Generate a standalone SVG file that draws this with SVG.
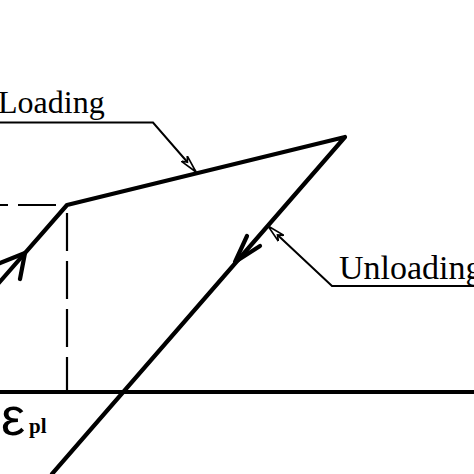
<svg xmlns="http://www.w3.org/2000/svg" width="474" height="474" viewBox="0 0 474 474">
<style>
.main{fill:none;stroke:#000;stroke-width:4.2;stroke-linecap:round;stroke-linejoin:round}
.axis{fill:none;stroke:#000;stroke-width:3.8}
.dash{fill:none;stroke:#000;stroke-width:2.2;stroke-dasharray:38 10}
.leader{fill:none;stroke:#000;stroke-width:2}
.lbl{font-family:"Liberation Serif","Times New Roman",serif;fill:#000}
</style>
<defs>
<marker id="open" viewBox="0 0 18 10" refX="18" refY="5" markerWidth="18" markerHeight="10" markerUnits="userSpaceOnUse" orient="auto">
<path d="M0,1 L18,5 L0,9 L5,5 Z" fill="#fff" stroke="#000" stroke-width="1.6" stroke-linejoin="miter"/>
</marker>
</defs>
<rect width="474" height="474" fill="#fff"/>
<g id="connectors">
<line class="axis" x1="0" y1="392" x2="474" y2="392"/>
<line class="dash" x1="0" y1="205" x2="67" y2="205" stroke-dashoffset="30"/>
<line class="dash" x1="67" y1="205" x2="67" y2="392" stroke-dashoffset="-8"/>
<polyline class="main" points="-10,293 67,205 345,137 52,474"/>
<polyline class="main" points="0,263 25,253 20,279"/>
<polyline class="main" points="260,246 235,262 247,236"/>
<polyline class="leader" points="0,122.5 153,122.5 196,172" marker-end="url(#open)"/>
<polyline class="leader" points="474,286 332,286 268,226" marker-end="url(#open)"/>
</g>
<g id="loading"><text class="lbl" x="-2" y="113" font-size="32">Loading</text></g>
<g id="unloading"><text class="lbl" x="339" y="279" font-size="34">Unloading</text></g>
<g id="eps">
<text x="1" y="435" font-family="Liberation Sans, Arial, sans-serif" font-size="54">ε</text>
<text x="29" y="433" font-family="Liberation Serif, Times New Roman, serif" font-weight="bold" font-size="21">pl</text>
</g>
</svg>
